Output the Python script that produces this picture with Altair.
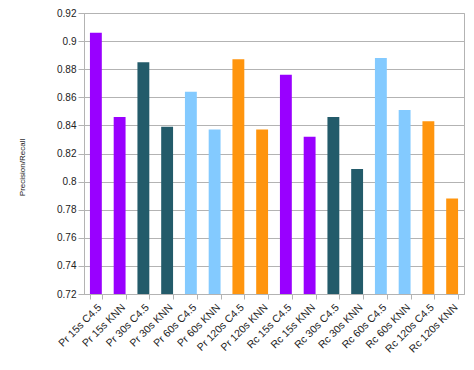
import altair as alt
import pandas as pd

categories = ["Pr 15s C4.5", "Pr 15s KNN", "Pr 30s C4.5", "Pr 30s KNN",
              "Pr 60s C4.5", "Pr 60s KNN", "Pr 120s C4.5", "Pr 120s KNN",
              "Rc 15s C4.5", "Rc 15s KNN", "Rc 30s C4.5", "Rc 30s KNN",
              "Rc 60s C4.5", "Rc 60s KNN", "Rc 120s C4.5", "Rc 120s KNN"]
values = [0.906, 0.846, 0.885, 0.839, 0.864, 0.837, 0.887, 0.837,
          0.876, 0.832, 0.846, 0.809, 0.888, 0.851, 0.843, 0.788]
groups = ["15s", "15s", "30s", "30s", "60s", "60s", "120s", "120s",
          "15s", "15s", "30s", "30s", "60s", "60s", "120s", "120s"]
group_names = ["15s", "30s", "60s", "120s"]
group_colors = ["#9900ff", "#235b6a", "#83caff", "#ff950e"]
y_ticks = [0.72, 0.74, 0.76, 0.78, 0.80, 0.82, 0.84, 0.86, 0.88, 0.90, 0.92]

df = pd.DataFrame({"cat": categories, "val": values, "grp": groups})

chart = alt.Chart(df).mark_bar().encode(
    x=alt.X("cat:N", sort=categories, title=None,
            scale=alt.Scale(paddingInner=0.5, paddingOuter=0.25),
            axis=alt.Axis(labelAngle=-45, labelAlign="right", labelBaseline="top",
                          labelFontSize=10.5, labelColor="#222222", labelFont="Liberation Sans",
                          labelPadding=3, tickBand="extent", tickSize=5, tickColor="#b3b3b3",
                          domainColor="#b3b3b3", grid=False)),
    y=alt.Y("val:Q", title="Precision/Recall",
            scale=alt.Scale(domain=[0.72, 0.92], nice=False, zero=False),
            axis=alt.Axis(values=y_ticks, format=".2~f", labelFontSize=10,
                          labelFont="Liberation Sans", labelColor="#222222",
                          tickSize=6, tickColor="#b3b3b3", domainColor="#b3b3b3",
                          gridColor="#b3b3b3", labelPadding=2,
                          titleFont="Liberation Sans", titleFontSize=8, titleFontWeight="normal",
                          titleColor="#222222", titleX=-62, titleY=154,
                          titleAlign="center", titleBaseline="middle", titleAngle=270)),
    y2=alt.datum(0.72),
    color=alt.Color("grp:N", scale=alt.Scale(domain=group_names, range=group_colors), legend=None),
).properties(
    width=380, height=281,
    autosize=alt.AutoSizeParams(type="none"),
    padding={"left": 76, "top": 5, "right": 2, "bottom": 60},
).configure_view(stroke="#b3b3b3", strokeWidth=1)

chart.save("out.html", embed_options={"renderer": "svg", "actions": False})
